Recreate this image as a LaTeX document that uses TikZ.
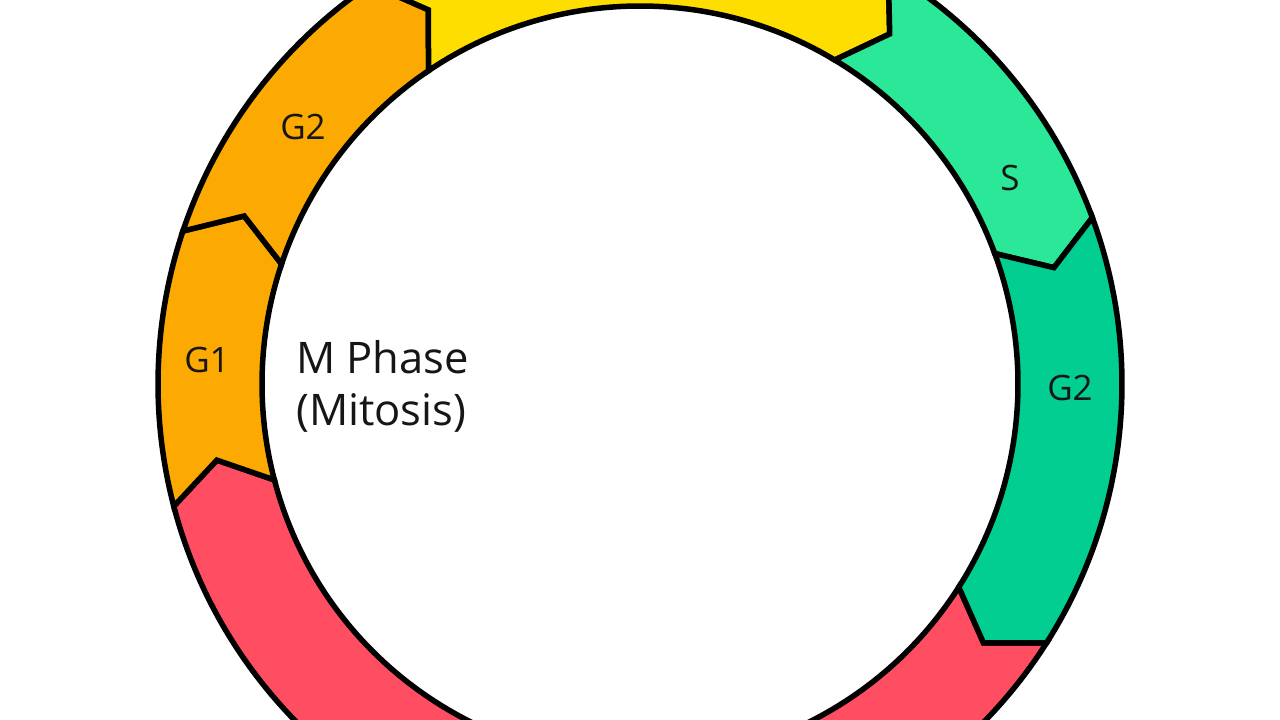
\documentclass[tikz,border=0pt]{standalone}
\usepackage{fontspec}
\setmainfont{Open Sans}
\definecolor{orangeG}{RGB}{252,170,2}
\definecolor{yellowS}{RGB}{253,222,0}
\definecolor{greenS}{RGB}{42,232,152}
\definecolor{greenG}{RGB}{2,206,146}
\definecolor{redM}{RGB}{255,78,98}
\definecolor{txt}{RGB}{22,22,22}
\def\rOut{482pt}
\def\rIn{378pt}
\def\rMid{430pt}
\def\tipd{4.5}
\tikzset{
  seg/.style={draw=black, line width=5.5pt, line join=miter},
  phase/.style={font=\fontsize{35}{40}\selectfont, text=txt, inner sep=0pt},
  mlabel/.style={font=\fontsize{43.5}{52}\selectfont, text=txt, align=left, inner sep=0pt}
}
\newcommand\ringseg[3]{%
  \draw[seg, fill=#1] (#2:\rOut) arc[start angle=#2, end angle=#3, radius=\rOut]
    -- (#3-\tipd:\rMid) -- (#3:\rIn)
    arc[start angle=#3, end angle=#2, radius=\rIn]
    -- (#2-\tipd:\rMid) -- cycle;}
\begin{document}
\begin{tikzpicture}[x=1pt,y=1pt]
\useasboundingbox (0,0) rectangle (1280,-720);
\fill[white] (0,0) rectangle (1280,-720);
\clip (0,0) rectangle (1280,-720);
\begin{scope}[shift={(640,-384)}]
  \ringseg{redM}{-32.5}{-165.3}
  \ringseg{orangeG}{194.7}{161.5}
  \ringseg{orangeG}{161.5}{124}
  \ringseg{yellowS}{124}{59}
  \ringseg{greenS}{59}{20.2}
  \ringseg{greenG}{20.2}{-32.5}
\end{scope}
\node[phase] (g2a) at (303,-127) {G2};
\node[phase] (g1) at (207,-360) {G1};
\node[phase] (s) at (1010,-178) {S};
\node[phase] (g2b) at (1070,-388) {G2};
\node[mlabel, anchor=west] (mph) at (296,-386) {M Phase\\(Mitosis)};
\end{tikzpicture}
\end{document}
